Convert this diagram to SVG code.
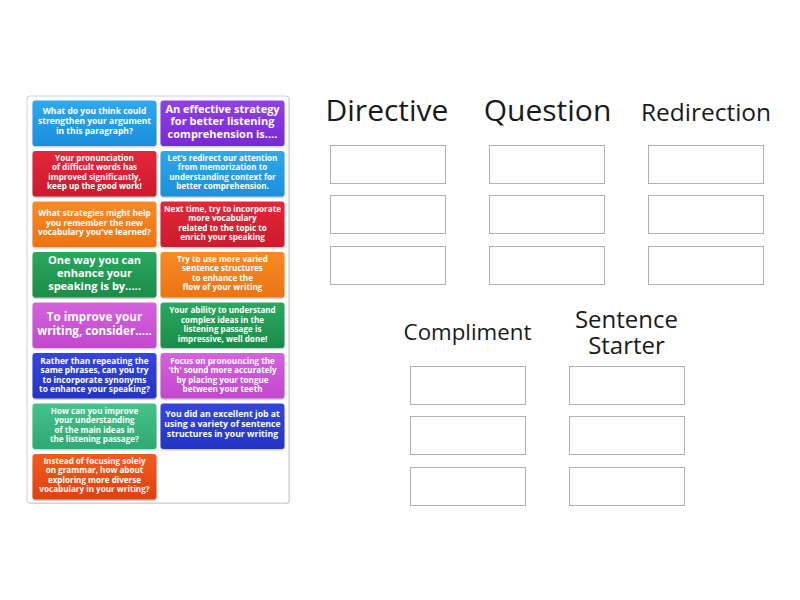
<svg xmlns="http://www.w3.org/2000/svg" width="800" height="600" viewBox="0 0 800 600">
<defs>
<linearGradient id="gBlue" x1="0" y1="0" x2="0" y2="1"><stop offset="0" stop-color="#2ea8ee"/><stop offset="1" stop-color="#1b8fdb"/></linearGradient>
<linearGradient id="gPurple" x1="0" y1="0" x2="0" y2="1"><stop offset="0" stop-color="#9140e6"/><stop offset="1" stop-color="#7a28d2"/></linearGradient>
<linearGradient id="gRed" x1="0" y1="0" x2="0" y2="1"><stop offset="0" stop-color="#e2283a"/><stop offset="1" stop-color="#cc1a2c"/></linearGradient>
<linearGradient id="gOrange" x1="0" y1="0" x2="0" y2="1"><stop offset="0" stop-color="#f88a26"/><stop offset="1" stop-color="#ec7412"/></linearGradient>
<linearGradient id="gGreen" x1="0" y1="0" x2="0" y2="1"><stop offset="0" stop-color="#28a95e"/><stop offset="1" stop-color="#1c8c4a"/></linearGradient>
<linearGradient id="gMagenta" x1="0" y1="0" x2="0" y2="1"><stop offset="0" stop-color="#d563dc"/><stop offset="1" stop-color="#c247cd"/></linearGradient>
<linearGradient id="gRoyal" x1="0" y1="0" x2="0" y2="1"><stop offset="0" stop-color="#3446de"/><stop offset="1" stop-color="#2434c2"/></linearGradient>
<linearGradient id="gTeal" x1="0" y1="0" x2="0" y2="1"><stop offset="0" stop-color="#44c28a"/><stop offset="1" stop-color="#30a973"/></linearGradient>
<linearGradient id="gOrRed" x1="0" y1="0" x2="0" y2="1"><stop offset="0" stop-color="#f45a1e"/><stop offset="1" stop-color="#e0420e"/></linearGradient>
</defs>
<style>
.panel{fill:#fff;stroke:#cfcfcf;stroke-width:1}
.panelshadow{fill:#d8d8d8}
.card{stroke:none}
.edge{fill:#000;opacity:0.18}
.blue{fill:url(#gBlue)}
.purple{fill:url(#gPurple)}
.red{fill:url(#gRed)}
.orange{fill:url(#gOrange)}
.green{fill:url(#gGreen)}
.magenta{fill:url(#gMagenta)}
.royal{fill:url(#gRoyal)}
.teal{fill:url(#gTeal)}
.orred{fill:url(#gOrRed)}
.ct{font-family:"Open Sans","Liberation Sans",sans-serif;font-weight:bold;fill:#fff;text-anchor:middle}
.s86{font-size:8.1px}
.s88{font-size:8.3px}
.s9{font-size:8.5px}
.s93{font-size:8.7px}
.big{font-size:11px}
.big2{font-size:11.7px}
.title{font-family:"Open Sans","Liberation Sans",sans-serif;fill:#1a1a1a;text-anchor:middle}
.drop{fill:#fff;stroke:#b0b0b0;stroke-width:1}
</style>
<rect x="28" y="97" width="262" height="407" rx="3" class="panelshadow"/>
<rect x="27" y="96" width="262" height="407" rx="3" class="panel"/>

<g id="card1"><rect x="32.5" y="102.5" width="124" height="45" rx="3" class="edge"/><rect x="32.5" y="100.5" width="124" height="45.5" rx="3" class="card blue"/>
<text class="ct s9"><tspan x="94.5" y="114">What do you think could</tspan><tspan x="94.5" y="124">strengthen your argument</tspan><tspan x="94.5" y="134">in this paragraph?</tspan></text></g>
<g id="card2"><rect x="160.5" y="102.5" width="124" height="45" rx="3" class="edge"/><rect x="160.5" y="100.5" width="124" height="45.5" rx="3" class="card purple"/>
<text class="ct big"><tspan x="222.5" y="112.5">An effective strategy</tspan><tspan x="222.5" y="125">for better listening</tspan><tspan x="222.5" y="137.5">comprehension is....</tspan></text></g>

<g id="card3"><rect x="32.5" y="153" width="124" height="45" rx="3" class="edge"/><rect x="32.5" y="151" width="124" height="45.5" rx="3" class="card red"/>
<text class="ct s86"><tspan x="94.5" y="160.5">Your pronunciation</tspan><tspan x="94.5" y="170">of difficult words has</tspan><tspan x="94.5" y="179.5">improved significantly,</tspan><tspan x="94.5" y="189">keep up the good work!</tspan></text></g>
<g id="card4"><rect x="160.5" y="153" width="124" height="45" rx="3" class="edge"/><rect x="160.5" y="151" width="124" height="45.5" rx="3" class="card blue"/>
<text class="ct s86"><tspan x="222.5" y="160.5">Let's redirect our attention</tspan><tspan x="222.5" y="170">from memorization to</tspan><tspan x="222.5" y="179.5">understanding context for</tspan><tspan x="222.5" y="189">better comprehension.</tspan></text></g>

<g id="card5"><rect x="32.5" y="203.5" width="124" height="45" rx="3" class="edge"/><rect x="32.5" y="201.5" width="124" height="45.5" rx="3" class="card orange"/>
<text class="ct s88"><tspan x="94.5" y="216">What strategies might help</tspan><tspan x="94.5" y="225.7">you remember the new</tspan><tspan x="94.5" y="235.4">vocabulary you've learned?</tspan></text></g>
<g id="card6"><rect x="160.5" y="203.5" width="124" height="45" rx="3" class="edge"/><rect x="160.5" y="201.5" width="124" height="45.5" rx="3" class="card red"/>
<text class="ct s86"><tspan x="222.5" y="212">Next time, try to incorporate</tspan><tspan x="222.5" y="221.3">more vocabulary</tspan><tspan x="222.5" y="230.6">related to the topic to</tspan><tspan x="222.5" y="240">enrich your speaking</tspan></text></g>

<g id="card7"><rect x="32.5" y="254" width="124" height="45" rx="3" class="edge"/><rect x="32.5" y="252" width="124" height="45.5" rx="3" class="card green"/>
<text class="ct big"><tspan x="94.5" y="264">One way you can</tspan><tspan x="94.5" y="277">enhance your</tspan><tspan x="94.5" y="290">speaking is by.....</tspan></text></g>
<g id="card8"><rect x="160.5" y="254" width="124" height="45" rx="3" class="edge"/><rect x="160.5" y="252" width="124" height="45.5" rx="3" class="card orange"/>
<text class="ct s86"><tspan x="222.5" y="262">Try to use more varied</tspan><tspan x="222.5" y="271.3">sentence structures</tspan><tspan x="222.5" y="280.6">to enhance the</tspan><tspan x="222.5" y="290">flow of your writing</tspan></text></g>

<g id="card9"><rect x="32.5" y="304.5" width="124" height="45" rx="3" class="edge"/><rect x="32.5" y="302.5" width="124" height="45.5" rx="3" class="card magenta"/>
<text class="ct big2"><tspan x="94.5" y="321">To improve your</tspan><tspan x="94.5" y="334.5">writing, consider.....</tspan></text></g>
<g id="card10"><rect x="160.5" y="304.5" width="124" height="45" rx="3" class="edge"/><rect x="160.5" y="302.5" width="124" height="45.5" rx="3" class="card green"/>
<text class="ct s86"><tspan x="222.5" y="313">Your ability to understand</tspan><tspan x="222.5" y="322.5">complex ideas in the</tspan><tspan x="222.5" y="332">listening passage is</tspan><tspan x="222.5" y="341.5">impressive, well done!</tspan></text></g>

<g id="card11"><rect x="32.5" y="355" width="124" height="45" rx="3" class="edge"/><rect x="32.5" y="353" width="124" height="45.5" rx="3" class="card royal"/>
<text class="ct s88"><tspan x="94.5" y="364">Rather than repeating the</tspan><tspan x="94.5" y="373.3">same phrases, can you try</tspan><tspan x="94.5" y="382.6">to incorporate synonyms</tspan><tspan x="94.5" y="392">to enhance your speaking?</tspan></text></g>
<g id="card12"><rect x="160.5" y="355" width="124" height="45" rx="3" class="edge"/><rect x="160.5" y="353" width="124" height="45.5" rx="3" class="card magenta"/>
<text class="ct s86"><tspan x="222.5" y="364">Focus on pronouncing the</tspan><tspan x="222.5" y="373.3">'th' sound more accurately</tspan><tspan x="222.5" y="382.6">by placing your tongue</tspan><tspan x="222.5" y="392">between your teeth</tspan></text></g>

<g id="card13"><rect x="32.5" y="405.5" width="124" height="45" rx="3" class="edge"/><rect x="32.5" y="403.5" width="124" height="45.5" rx="3" class="card teal"/>
<text class="ct s86"><tspan x="94.5" y="414">How can you improve</tspan><tspan x="94.5" y="423.3">your understanding</tspan><tspan x="94.5" y="432.6">of the main ideas in</tspan><tspan x="94.5" y="442">the listening passage?</tspan></text></g>
<g id="card14"><rect x="160.5" y="405.5" width="124" height="45" rx="3" class="edge"/><rect x="160.5" y="403.5" width="124" height="45.5" rx="3" class="card royal"/>
<text class="ct s93"><tspan x="222.5" y="417">You did an excellent job at</tspan><tspan x="222.5" y="427">using a variety of sentence</tspan><tspan x="222.5" y="437">structures in your writing</tspan></text></g>

<g id="card15"><rect x="32.5" y="456" width="124" height="45" rx="3" class="edge"/><rect x="32.5" y="454" width="124" height="45.5" rx="3" class="card orred"/>
<text class="ct s86"><tspan x="94.5" y="464">Instead of focusing solely</tspan><tspan x="94.5" y="473.3">on grammar, how about</tspan><tspan x="94.5" y="482.6">exploring more diverse</tspan><tspan x="94.5" y="492">vocabulary in your writing?</tspan></text></g>

<g id="cat-directive">
<text class="title" x="387" y="121" font-size="30">Directive</text>
<rect class="drop" x="330.5" y="145.5" width="115" height="38"/>
<rect class="drop" x="330.5" y="195.5" width="115" height="38"/>
<rect class="drop" x="330.5" y="246.5" width="115" height="38"/>
</g>
<g id="cat-question">
<text class="title" x="547.5" y="121" font-size="30">Question</text>
<rect class="drop" x="489.5" y="145.5" width="115" height="38"/>
<rect class="drop" x="489.5" y="195.5" width="115" height="38"/>
<rect class="drop" x="489.5" y="246.5" width="115" height="38"/>
</g>
<g id="cat-redirection">
<text class="title" x="706" y="120.5" font-size="24.5">Redirection</text>
<rect class="drop" x="648.5" y="145.5" width="115" height="38"/>
<rect class="drop" x="648.5" y="195.5" width="115" height="38"/>
<rect class="drop" x="648.5" y="246.5" width="115" height="38"/>
</g>
<g id="cat-compliment">
<text class="title" x="467.5" y="340" font-size="22.3">Compliment</text>
<rect class="drop" x="410.5" y="366.5" width="115" height="38"/>
<rect class="drop" x="410.5" y="416.5" width="115" height="38"/>
<rect class="drop" x="410.5" y="467.5" width="115" height="38"/>
</g>
<g id="cat-sentence-starter">
<text class="title" font-size="24"><tspan x="626.5" y="328">Sentence</tspan><tspan x="626.5" y="354">Starter</tspan></text>
<rect class="drop" x="569.5" y="366.5" width="115" height="38"/>
<rect class="drop" x="569.5" y="416.5" width="115" height="38"/>
<rect class="drop" x="569.5" y="467.5" width="115" height="38"/>
</g>
</svg>
